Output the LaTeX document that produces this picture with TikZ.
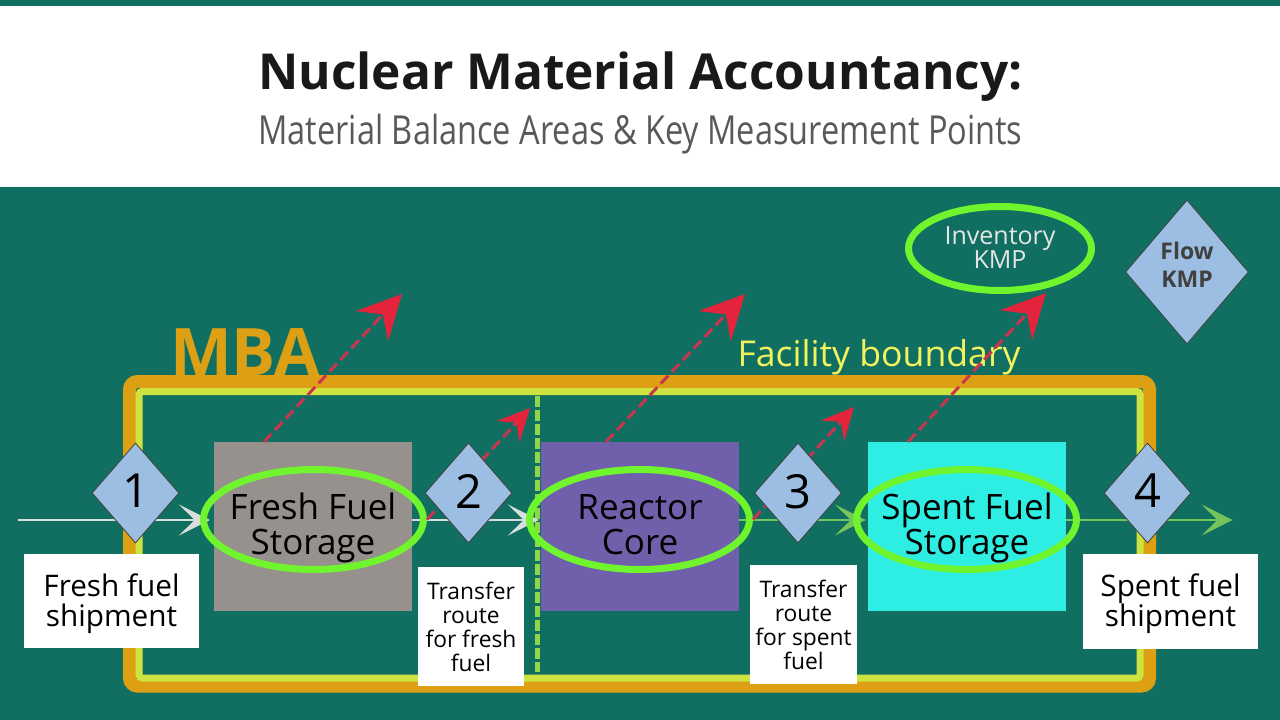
\documentclass[tikz,border=0pt]{standalone}
\usepackage{fontspec}
\setmainfont{Open Sans}
\usetikzlibrary{arrows.meta,positioning}
\usetikzlibrary{shapes.geometric}
\definecolor{bgteal}{HTML}{106F60}
\definecolor{mbaorange}{HTML}{DDA015}
\definecolor{fencelime}{HTML}{CFE340}
\definecolor{ringgreen}{HTML}{6FF42D}
\definecolor{kmpblue}{HTML}{9DBEE3}
\definecolor{dashred}{HTML}{CB3450}
\definecolor{tipred}{HTML}{E4233C}
\definecolor{flowgrey}{HTML}{D9DDDD}
\definecolor{flowgreen}{HTML}{72C65C}
\definecolor{freshgrey}{HTML}{96918D}
\definecolor{corepurple}{HTML}{7060AC}
\definecolor{spentcyan}{HTML}{2EEEE4}
\definecolor{facilityyellow}{HTML}{F3F35E}
\definecolor{dividegreen}{HTML}{8FD64A}
\tikzset{
    store/.style={rectangle,minimum width=198pt,minimum height=169pt,inner sep=0pt},
    storename/.style={font=\fontsize{35}{35}\selectfont,align=center},
    ring/.style={ellipse,draw=ringgreen,line width=7pt,minimum width=220pt,minimum height=100pt,inner sep=0pt},
    kmp/.style={diamond,aspect=.87,draw=black!75,fill=kmpblue,line width=.8pt,minimum width=87pt,minimum height=100pt,
        inner sep=0pt,font=\fontsize{47}{47}\selectfont},
    tag/.style={rectangle,fill=white,inner sep=0pt,align=center},
    shipname/.style={font=\fontsize{29.7}{30}\selectfont,align=center},
    leak/.style={draw=dashred,line width=3pt,dash pattern=on 11pt off 5pt,
        -{Stealth[length=44pt,width=44pt,inset=16pt,color=tipred]}},
    leaksmall/.style={leak,-{Stealth[length=32pt,width=31pt,inset=12pt,color=tipred]}},
    flow/.style={line width=2pt,-{Stealth[length=31pt,width=31pt,inset=16pt]}}
}
\begin{document}
\begin{tikzpicture}[x=1pt,y=-1pt,node distance=327pt,on grid]
    \fill[bgteal] (0,0) rectangle (1280,720);
    \useasboundingbox (0,0) rectangle (1280,720);
    \fill[white] (0,6) rectangle (1280,187);
    \node[text=black!90] (title) at (640.5,77) {\fontsize{49.6}{50}\selectfont\bfseries Nuclear Material Accountancy:};
    \node[text=black!65] (subtitle) [below=57pt of title] {\scalebox{.813}[1]{\fontsize{40}{42}\selectfont Material Balance Areas \& Key Measurement Points}};
    % boundary lines
    \node[text=mbaorange,font=\fontsize{65.5}{66}\selectfont\bfseries] (mba) at (245,352) {MBA};
    \node[text=facilityyellow,font=\fontsize{35.6}{36}\selectfont] (facility) at (879,357) {Facility boundary};
    \draw[mbaorange,line width=13pt,rounded corners=8pt] (129.5,381.5) rectangle (1149.5,686);
    \draw[fencelime,line width=7pt,rounded corners=3pt] (139,391.5) rectangle (1140,678);
    \draw[dividegreen,line width=5pt,dash pattern=on 11pt off 3pt] (537,396) -- (537,672);
    % free ends
    \coordinate (enter) at (18,520);
    \coordinate (leave) at (1232.5,520);
    \coordinate (ltipa) at (402,294);
    \coordinate (ltipb) at (530,408);
    \coordinate (ltipc) at (745,294);
    \coordinate (ltipd) at (854,407);
    \coordinate (ltipe) at (1046,293);
    % storage blocks
    \node[store,fill=freshgrey] (fresh) at (313,526.5) {};
    \node[store,fill=corepurple,right=of fresh] (core) {};
    \node[store,fill=spentcyan,right=of core] (spent) {};
    % flows
    \draw[flow,flowgrey] (enter) -- ([xshift=-4pt,yshift=6.5pt]fresh.west);
    \draw[flow,flowgrey] ([yshift=6.5pt]fresh.east) -- ([xshift=-2pt,yshift=6.5pt]core.west);
    \draw[flow,flowgreen] ([yshift=6.5pt]core.east) -- ([xshift=-2pt,yshift=6.5pt]spent.west);
    \draw[flow,flowgreen] ([yshift=6.5pt]spent.east) -- (leave);
    % rings
    \node[ring] (freshring) at (313.5,519.5) {};
    \node[ring,right=326pt of freshring] (corering) {};
    \node[ring,right=327pt of corering] (spentring) {};
    % losses
    \draw[leak] ([xshift=-49pt]fresh.north) -- (ltipa);
    \draw[leaksmall] (freshring.east) -- (ltipb);
    \draw[leak] ([xshift=-34pt]core.north) -- (ltipc);
    \draw[leaksmall] (corering.east) -- (ltipd);
    \draw[leak] ([xshift=-59pt]spent.north) -- (ltipe);
    % measurement points
    \node[kmp] (kmpa) at (135.5,493) {\raisebox{4pt}{1}};
    \node[kmp,right=333pt of kmpa] (kmpb) {\raisebox{4pt}{2}};
    \node[kmp,right=329.5pt of kmpb] (kmpc) {\raisebox{4pt}{3}};
    \node[kmp,right=349.5pt of kmpc] (kmpd) {\raisebox{4pt}{4}};
    \node[kmp,minimum width=123pt,minimum height=144pt] (flowkmp) at (1187,272) {};
    \node[font=\fontsize{23}{28}\selectfont\bfseries,text=black!75,align=center] (flowname) at (1187,265) {Flow\\KMP};
    \node[ring,minimum width=183pt,minimum height=84pt,text=white!90!black,align=center,font=\fontsize{25}{24}\selectfont] (invkmp) at (1000,248.5) {\raisebox{2.5pt}{Inventory}\\\raisebox{2.5pt}{KMP}};
    % names on the blocks
    \node[storename] (freshname) at (313,527.5) {Fresh Fuel\\Storage};
    \node[storename,right=327pt of freshname,yshift=3pt] (corename) {Reactor\\Core};
    \node[storename,right=327pt of corename,yshift=-3pt] (spentname) {Spent Fuel\\Storage};
    % labels
    \node[tag,minimum width=175.5pt,minimum height=94pt] (shipin) at (111.5,601) {};
    \node[shipname] (shipinname) at (111.5,604) {Fresh fuel\\shipment};
    \node[tag,minimum width=175.5pt,minimum height=95pt] (shipout) at (1170.5,601.5) {};
    \node[shipname] (shipoutname) at (1170.5,604) {Spent fuel\\shipment};
    \node[tag,minimum width=106pt,minimum height=119pt,font=\fontsize{22.8}{24}\selectfont] (routea) at (471,626.5) {Transfer\\route\\for fresh\\fuel};
    \node[tag,minimum width=107pt,minimum height=119pt,font=\fontsize{22.8}{24}\selectfont] (routeb) at (803.5,624.5) {Transfer\\route\\for spent\\fuel};
\end{tikzpicture}
\end{document}
